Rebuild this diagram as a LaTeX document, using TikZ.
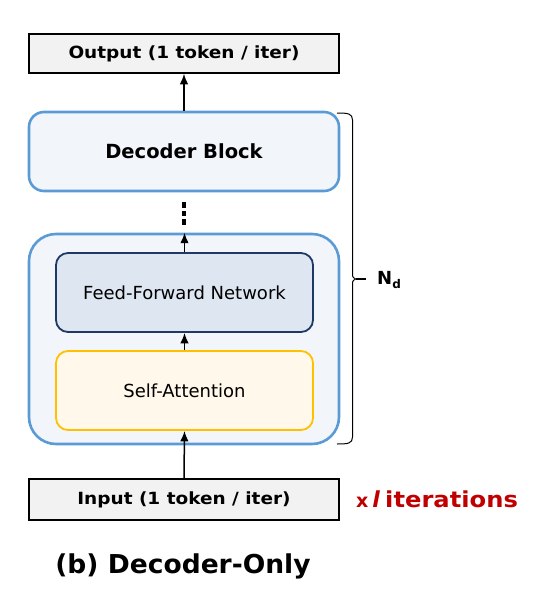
\documentclass[tikz,border=0pt]{standalone}
\usepackage{fontspec}
\setmainfont{DejaVu Sans}
\usetikzlibrary{arrows.meta}
\definecolor{blueborder}{HTML}{5B9BD5}
\definecolor{bluefill}{HTML}{F2F6FB}
\definecolor{ffnfill}{HTML}{DEE6F2}
\definecolor{ffnborder}{HTML}{1F3864}
\definecolor{safill}{HTML}{FFF8EB}
\definecolor{saborder}{HTML}{FFC000}
\definecolor{grayfill}{HTML}{F2F2F2}
\definecolor{redtxt}{HTML}{C00000}
\newcommand{\wideb}[2]{\scalebox{#1}[1]{#2}}
\tikzset{
  iobox/.style={draw=black, line width=1.5pt, fill=grayfill, minimum width=310pt, inner sep=0pt, font=\fontsize{16.8}{20}\selectfont\bfseries},
  blockbox/.style={draw=blueborder, line width=2.6pt, fill=bluefill, minimum width=310pt, inner sep=0pt},
  subbox/.style={line width=1.8pt, minimum width=257pt, minimum height=79pt, rounded corners=12pt, inner sep=0pt, font=\fontsize{18}{21}\selectfont},
  arr/.style={line width=1.5pt, -{Latex[length=10.5pt,width=8.5pt]}},
}
\begin{document}
\begin{tikzpicture}[x=1pt,y=-1pt]
\useasboundingbox (0,0) rectangle (533,590);
\node[iobox, minimum height=39pt] (out) at (184,53.5) {\wideb{1.1}{Output (1 token / iter)}};
\node[blockbox, minimum height=79pt, rounded corners=15pt, font=\fontsize{19.5}{24}\selectfont\bfseries] (dec) at (184,151.5) {Decoder Block};
\node[blockbox, minimum height=210pt, rounded corners=27pt] (outer) at (184,339) {};
\node[subbox, draw=ffnborder, fill=ffnfill] (ffn) at (184.5,292.5) {Feed-Forward Network};
\node[subbox, draw=saborder, fill=safill] (sa) at (184.5,390.5) {Self-Attention};
\node[iobox, minimum height=41pt] (in) at (184,499.5) {\wideb{1.1}{Input (1 token / iter)}};
% dots
\fill (181.5,202) rectangle (186,207.5);
\fill (181.5,210.5) rectangle (186,216);
\fill (181.5,219) rectangle (186,224.5);
% arrows
\draw[arr] (dec.north) -- (out.south);
\draw[arr] (ffn.north) -- (ffn.north |- outer.north);
\draw[arr] (sa.north) -- (ffn.south);
\draw[arr] (in.north) -- (sa.south);
% brace
\coordinate (tip) at (355.5,279);
\coordinate (lblend) at (366,279);
\draw[line width=1pt] (337,113) .. controls (348,113) and (352.5,113.5) .. (352.5,120) -- (352.5,273) .. controls (352.5,277) .. (tip) .. controls (352.5,281) .. (352.5,285) -- (352.5,437) .. controls (352.5,443.5) and (348,444) .. (337,444);
\draw[line width=1.4pt] (tip) -- (lblend);
\node[anchor=west, inner sep=0pt, font=\fontsize{18}{20}\selectfont\bfseries] (nd) at (377,280) {N\raisebox{-0.35ex}{\fontsize{12}{12}\selectfont d}};
\node[anchor=west, inner sep=0pt, text=redtxt, font=\bfseries] (iter) at (356,499) {\fontsize{19}{22}\selectfont x\hspace{4pt}\fontsize{22}{24}\selectfont\textit{l}\hspace{5pt}\wideb{1.1}{iterations}};
\node[inner sep=0pt, font=\fontsize{26}{30}\selectfont\bfseries] (cap) at (183,566) {\wideb{1.02}{(b) Decoder-Only}};
\end{tikzpicture}
\end{document}
